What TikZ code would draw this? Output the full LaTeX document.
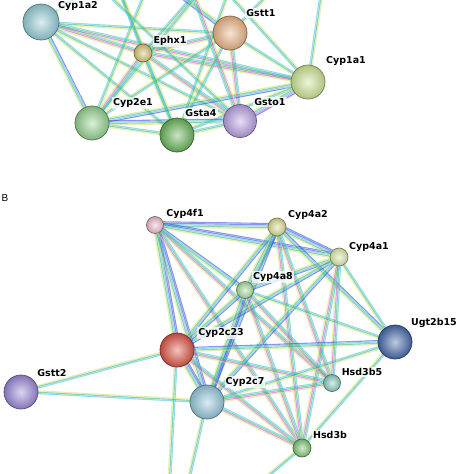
\documentclass[tikz,border=0pt]{standalone}
\usepackage{fontspec}
\newfontfamily\labfont{DejaVu Sans}
\newfontfamily\panfont{Liberation Sans}
\usetikzlibrary{calc}
\definecolor{sy}{RGB}{215,228,120}
\definecolor{sg}{RGB}{60,185,120}
\definecolor{sc}{RGB}{70,195,225}
\definecolor{sb}{RGB}{60,80,225}
\definecolor{sm}{RGB}{215,90,205}
\def\PA{sy,sg,sc,sb}
\def\PB{sy,sm,sg,sc}
\def\PC{sy,sg,sc}
\def\PD{sy,sg,sc,sm,sb}
\def\PE{sy,sg,sc,sb,sb}
\newcommand{\sedge}[3]{%
  \foreach \cc [count=\ii] in #3 {%
    \pgfmathsetmacro{\off}{(\ii-2.5)*1.35}%
    \draw[sline,\cc] ($(#1)!\off pt!90:(#2)$) -- ($(#2)!\off pt!-90:(#1)$);%
  }%
}
\tikzset{
  sline/.style={line width=1.1pt, opacity=0.6},
  prot/.style n args={2}{circle, inner sep=0pt, minimum size=#1, draw=#2!55!black, line width=0.7pt,
     shading=radial, inner color=#2!35!white, outer color=#2!85!black},
  lab/.style={font=\labfont\bfseries\fontsize{9.5}{10}\selectfont, fill=white, fill opacity=0.75, text opacity=1, inner sep=1pt},
}
\definecolor{cA}{RGB}{150,205,215}
\definecolor{cB}{RGB}{235,180,135}
\definecolor{cC}{RGB}{215,195,115}
\definecolor{cD}{RGB}{205,228,150}
\definecolor{cE}{RGB}{150,210,145}
\definecolor{cF}{RGB}{105,180,90}
\definecolor{cG}{RGB}{185,160,225}
\definecolor{cH}{RGB}{235,190,200}
\definecolor{cI}{RGB}{220,220,145}
\definecolor{cJ}{RGB}{220,235,170}
\definecolor{cK}{RGB}{170,222,160}
\definecolor{cL}{RGB}{220,85,70}
\definecolor{cM}{RGB}{150,200,220}
\definecolor{cN}{RGB}{70,105,170}
\definecolor{cO}{RGB}{140,205,195}
\definecolor{cP}{RGB}{130,200,120}
\definecolor{cQ}{RGB}{155,135,215}
\begin{document}
\begin{tikzpicture}[x=1pt,y=-1pt]
\useasboundingbox (0,0) rectangle (474,474);
\fill[white] (0,0) rectangle (474,474);
\begin{scope}
\clip (0,0) rectangle (474,474);
% ---------- panel A coordinates ----------
\coordinate (Cyp1a2) at (41,22);
\coordinate (Gstt1) at (230,33);
\coordinate (Ephx1) at (143,53);
\coordinate (Cyp1a1) at (308,82);
\coordinate (Cyp2e1) at (92,123);
\coordinate (Gsta4) at (177,135);
\coordinate (Gsto1) at (240,121);
\coordinate (U1) at (95,-70);
\coordinate (U2) at (170,-70);
\coordinate (U3) at (250,-70);
\coordinate (U4) at (330,-70);
\coordinate (U5) at (40,-70);
% ---------- panel A edges ----------
\sedge{Cyp1a2}{Ephx1}{\PB}
\sedge{Cyp1a2}{Gstt1}{\PC}
\sedge{Cyp1a2}{Cyp2e1}{\PA}
\sedge{Cyp1a2}{Gsta4}{\PC}
\sedge{Cyp1a2}{Gsto1}{\PC}
\sedge{Cyp1a2}{Cyp1a1}{\PB}
\sedge{Cyp1a2}{U2}{\PC}
\sedge{Ephx1}{Gstt1}{\PB}
\sedge{Ephx1}{Cyp1a1}{\PB}
\sedge{Ephx1}{Cyp2e1}{\PB}
\sedge{Ephx1}{Gsta4}{\PC}
\sedge{Ephx1}{Gsto1}{\PB}
\sedge{Ephx1}{U1}{\PC}
\sedge{Ephx1}{U3}{\PC}
\sedge{Gstt1}{Cyp1a1}{\PC}
\sedge{Gstt1}{Cyp2e1}{\PC}
\sedge{Gstt1}{Gsta4}{\PC}
\sedge{Gstt1}{Gsto1}{\PB}
\sedge{Gstt1}{U1}{\PA}
\sedge{Gstt1}{U4}{\PC}
\sedge{Cyp1a1}{Cyp2e1}{\PA}
\sedge{Cyp1a1}{Gsta4}{\PC}
\sedge{Cyp1a1}{Gsto1}{\PD}
\sedge{Cyp1a1}{U4}{\PC}
\sedge{Cyp1a1}{U2}{\PC}
\sedge{Cyp2e1}{Gsta4}{\PC}
\sedge{Cyp2e1}{Gsto1}{\PA}
\sedge{Cyp2e1}{U2}{\PC}
\sedge{Cyp2e1}{U3}{\PC}
\sedge{Gsta4}{Gsto1}{\PC}
\sedge{Gsta4}{U1}{\PC}
\sedge{Gsta4}{U3}{\PC}
\sedge{Gsto1}{U2}{\PB}
\sedge{Gsto1}{U5}{\PC}
% ---------- panel B coordinates ----------
\coordinate (Cyp4f1) at (155,225);
\coordinate (Cyp4a2) at (277,227);
\coordinate (Cyp4a1) at (339,257);
\coordinate (Cyp4a8) at (245,290);
\coordinate (Cyp2c23) at (177,350);
\coordinate (Cyp2c7) at (207,402);
\coordinate (Ugt2b15) at (395,342);
\coordinate (Hsd3b5) at (332,383);
\coordinate (Hsd3b) at (302,448);
\coordinate (Gstt2) at (21,392);
\coordinate (D1) at (168,520);
\coordinate (D2) at (180,520);
\coordinate (D3) at (240,500);
% ---------- panel B edges ----------
\sedge{Cyp4f1}{Cyp4a2}{\PE}
\sedge{Cyp4f1}{Cyp4a1}{\PE}
\sedge{Cyp4f1}{Cyp4a8}{\PA}
\sedge{Cyp4f1}{Cyp2c23}{\PE}
\sedge{Cyp4f1}{Cyp2c7}{\PE}
\sedge{Cyp4f1}{Hsd3b5}{\PB}
\sedge{Cyp4f1}{Hsd3b}{\PB}
\sedge{Cyp4a2}{Cyp4a1}{\PE}
\sedge{Cyp4a2}{Cyp4a8}{\PE}
\sedge{Cyp4a2}{Cyp2c23}{\PA}
\sedge{Cyp4a2}{Cyp2c7}{\PA}
\sedge{Cyp4a2}{Ugt2b15}{\PA}
\sedge{Cyp4a2}{Hsd3b5}{\PB}
\sedge{Cyp4a2}{Hsd3b}{\PB}
\sedge{Cyp4a1}{Cyp4a8}{\PA}
\sedge{Cyp4a1}{Cyp2c23}{\PA}
\sedge{Cyp4a1}{Cyp2c7}{\PA}
\sedge{Cyp4a1}{Ugt2b15}{\PC}
\sedge{Cyp4a1}{Hsd3b5}{\PB}
\sedge{Cyp4a1}{Hsd3b}{\PB}
\sedge{Cyp4a8}{Cyp2c23}{\PA}
\sedge{Cyp4a8}{Cyp2c7}{\PE}
\sedge{Cyp4a8}{Ugt2b15}{\PC}
\sedge{Cyp4a8}{Hsd3b5}{\PB}
\sedge{Cyp4a8}{Hsd3b}{\PB}
\sedge{Cyp2c23}{Cyp2c7}{\PE}
\sedge{Cyp2c23}{Ugt2b15}{\PA}
\sedge{Cyp2c23}{Hsd3b5}{\PB}
\sedge{Cyp2c23}{Hsd3b}{\PB}
\sedge{Cyp2c23}{Gstt2}{\PC}
\sedge{Cyp2c23}{D1}{\PC}
\sedge{Cyp2c7}{Ugt2b15}{\PC}
\sedge{Cyp2c7}{Hsd3b5}{\PB}
\sedge{Cyp2c7}{Hsd3b}{\PB}
\sedge{Cyp2c7}{Gstt2}{\PC}
\sedge{Cyp2c7}{D2}{\PC}
\sedge{Ugt2b15}{Hsd3b}{\PC}
\sedge{Hsd3b}{D3}{\PC}
% ---------- proteins ----------
\node[prot={36pt}{cA}] (nCyp1a2) at (Cyp1a2) {};
\node[prot={34pt}{cB}] (nGstt1) at (Gstt1) {};
\node[prot={18pt}{cC}] (nEphx1) at (Ephx1) {};
\node[prot={34pt}{cD}] (nCyp1a1) at (Cyp1a1) {};
\node[prot={34pt}{cE}] (nCyp2e1) at (Cyp2e1) {};
\node[prot={34pt}{cF}] (nGsta4) at (Gsta4) {};
\node[prot={33pt}{cG}] (nGsto1) at (Gsto1) {};
\node[prot={17pt}{cH}] (nCyp4f1) at (Cyp4f1) {};
\node[prot={18pt}{cI}] (nCyp4a2) at (Cyp4a2) {};
\node[prot={18pt}{cJ}] (nCyp4a1) at (Cyp4a1) {};
\node[prot={17pt}{cK}] (nCyp4a8) at (Cyp4a8) {};
\node[prot={34pt}{cL}] (nCyp2c23) at (Cyp2c23) {};
\node[prot={34pt}{cM}] (nCyp2c7) at (Cyp2c7) {};
\node[prot={34pt}{cN}] (nUgt2b15) at (Ugt2b15) {};
\node[prot={17pt}{cO}] (nHsd3b5) at (Hsd3b5) {};
\node[prot={18pt}{cP}] (nHsd3b) at (Hsd3b) {};
\node[prot={34pt}{cQ}] (nGstt2) at (Gstt2) {};
% ---------- labels ----------
\node[lab] (lCyp1a2) at (78,6) {Cyp1a2};
\node[lab] (lGstt1) at (261,13) {Gstt1};
\node[lab] (lEphx1) at (170,41) {Ephx1};
\node[lab] (lCyp1a1) at (346,61) {Cyp1a1};
\node[lab] (lCyp2e1) at (133,103) {Cyp2e1};
\node[lab] (lGsta4) at (201,113) {Gsta4};
\node[lab] (lGsto1) at (270,102) {Gsto1};
\node[lab] (lCyp4f1) at (185,214) {Cyp4f1};
\node[lab] (lCyp4a2) at (308,215) {Cyp4a2};
\node[lab] (lCyp4a1) at (369,247) {Cyp4a1};
\node[lab] (lCyp4a8) at (273,277) {Cyp4a8};
\node[lab] (lCyp2c23) at (221,333) {Cyp2c23};
\node[lab] (lCyp2c7) at (245,382) {Cyp2c7};
\node[lab] (lUgt2b15) at (434,323) {Ugt2b15};
\node[lab] (lHsd3b5) at (362,372) {Hsd3b5};
\node[lab] (lHsd3b) at (330,435) {Hsd3b};
\node[lab] (lGstt2) at (52,373) {Gstt2};
\end{scope}
\node[font=\panfont\fontsize{10}{12}\selectfont, inner sep=0pt] (panelB) at (5,198) {B};
\end{tikzpicture}
\end{document}
